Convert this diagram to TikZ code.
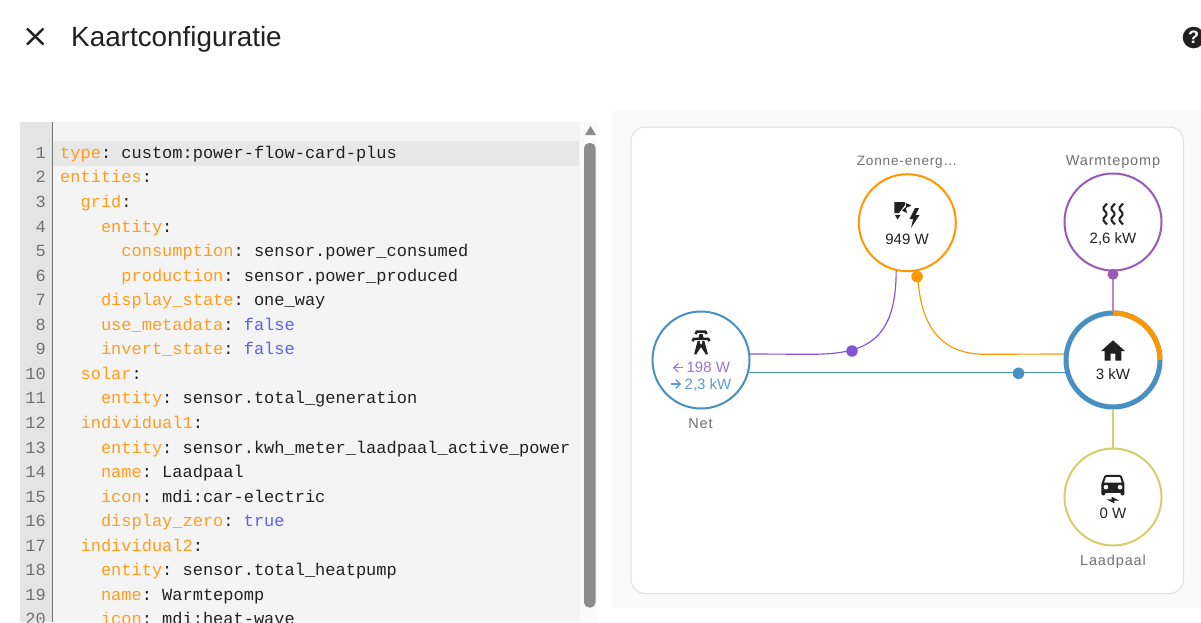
\documentclass[tikz,border=0pt]{standalone}
\usepackage{fontspec}
\setmainfont{Liberation Sans}
\newfontfamily\codefont{Liberation Mono}
\newfontfamily\labelfont[LetterSpace=6]{Liberation Sans}
\usetikzlibrary{arrows.meta}

\definecolor{griblue}{HTML}{488FC2}
\definecolor{solorange}{HTML}{FF9800}
\definecolor{flowpurple}{HTML}{8353D1}
\definecolor{heatpurple}{HTML}{9B59B6}
\definecolor{heatline}{HTML}{B58BD0}
\definecolor{caryellow}{HTML}{D4CF6C}
\definecolor{gridtext}{HTML}{5B9BD0}
\definecolor{inktext}{HTML}{212121}
\definecolor{greytext}{HTML}{727272}
\definecolor{keyorange}{HTML}{FF9D1E}
\definecolor{boolblue}{HTML}{5F5FF0}
\newcommand{\boolval}[1]{\textcolor{boolblue}{#1}}

\tikzset{
  flowcircle/.style={circle,draw,line width=2pt,fill=white,minimum size=97pt,inner sep=0pt},
  flowdot/.style={circle,fill,inner sep=0pt,minimum size=11.5pt},
  flowarrow/.style={line width=1.1pt,-{Straight Barb[length=4.5pt,width=9pt]}},
  valuetext/.style={anchor=base,inner sep=0pt,text=inktext,font=\fontsize{15}{18}\selectfont},
  labeltext/.style={anchor=base,inner sep=0pt,text=greytext,font=\labelfont\fontsize{14.5}{18}\selectfont},
  codeline/.style={anchor=base west,inner sep=0pt,text=inktext,font=\codefont\frenchspacing\fontsize{17}{20}\selectfont},
  codenum/.style={anchor=base east,inner sep=0pt,text=greytext,font=\codefont\fontsize{17}{20}\selectfont},
  mdi/.style={fill=inktext,even odd rule,draw=none}
}

\begin{document}
\begin{tikzpicture}[x=1pt,y=-1pt]
\clip (0,0) rectangle (1201,622);
\fill[white] (0,0) rectangle (1201,622);

\draw[inktext,line width=2.4pt] (27,28.5) -- (43.5,44.5);
\draw[inktext,line width=2.4pt] (43.5,28.5) -- (27,44.5);
\node[anchor=base west,inner sep=0pt,text=inktext,font=\fontsize{27.85}{32}\selectfont] (title) at (71,46) {Kaartconfiguratie};
\node[circle,fill=inktext,minimum size=21.6pt,inner sep=0pt,text=white,font=\bfseries\fontsize{18}{20}\selectfont] (help) at (1193.5,37.5) {?};

\fill[black!4.5] (52,122) rectangle (580,622);
\fill[black!10.5] (20,122) rectangle (52,622);
\draw[black!55,line width=1pt] (52.5,122) -- (52.5,622);
\fill[black!9] (53,141) rectangle (579,165.7);
\fill[black!2] (580,122) rectangle (597,622);
\fill[black!45] (585,135) -- (596,135) -- (590.5,126) -- cycle;
\fill[black!45,rounded corners=5pt] (584,143) rectangle (595.5,607.5);

\foreach \n/\ind/\k/\v in {
  1/0/type/custom:power-flow-card-plus,
  2/0/entities/{},
  3/2/grid/{},
  4/4/entity/{},
  5/6/consumption/sensor.power\_consumed,
  6/6/production/sensor.power\_produced,
  7/4/display\_state/one\_way,
  8/4/use\_metadata/\boolval{false},
  9/4/invert\_state/\boolval{false},
  10/2/solar/{},
  11/4/entity/sensor.total\_generation,
  12/2/individual1/{},
  13/4/entity/sensor.kwh\_meter\_laadpaal\_active\_power,
  14/4/name/Laadpaal,
  15/4/icon/mdi:car-electric,
  16/4/display\_zero/\boolval{true},
  17/2/individual2/{},
  18/4/entity/sensor.total\_heatpump,
  19/4/name/Warmtepomp,
  20/4/icon/mdi:heat-wave}{
  \node[codenum] (num\n) at (46,{158.4+(\n-1)*24.55}) {\n};
  \node[codeline] (line\n) at ({60+\ind*10.2},{158.4+(\n-1)*24.55}) {\textcolor{keyorange}{\k}: \v};
}

\fill[black!2] (612,111) rectangle (1201,608);
\draw[black!12,fill=white,rounded corners=14pt,line width=1pt] (631,127) rectangle (1183.5,593.5);

\node[flowcircle,draw=griblue] (grid) at (701,360) {};
\node[flowcircle,draw=solorange] (solar) at (907.3,222.7) {};
\node[flowcircle,draw=heatpurple] (heat) at (1113,222) {};
\node[flowcircle,draw=griblue,line width=5pt,minimum size=94pt] (home) at (1113,360) {};
\node[flowcircle,draw=caryellow] (car) at (1113,497) {};

\draw[solorange,line width=5pt] (home.center) ++(0,-47) arc[start angle=90,end angle=0,radius=47pt];

\draw[flowpurple,line width=1.15pt] (grid.7) -- (810,354.3) .. controls (865,354.3) and (896,342) .. (solar.257);
\draw[solorange,line width=1.15pt] (solar.282) .. controls (919,325) and (940,354.3) .. (985,354.3) -- (home.173.4);
\draw[griblue,line width=1.15pt] (grid.-15.6) -- (home.195.6);
\draw[heatline,line width=2pt] (heat.south) -- (home.north);
\draw[caryellow,line width=2pt] (home.south) -- (car.north);

\node[flowdot,fill=flowpurple] (griddot) at (852,351) {};
\node[flowdot,fill=solorange] (solardot) at (917,276.5) {};
\node[flowdot,fill=griblue] (homedot) at (1018.5,373.3) {};
\node[flowdot,fill=heatpurple,minimum size=11pt] (heatdot) at (1113,274.3) {};

\node[labeltext,font=\labelfont\fontsize{13.6}{18}\selectfont] (solarlabel) at (907,165) {Zonne-energ…};
\node[labeltext] (heatlabel) at (1113,165) {Warmtepomp};
\node[labeltext] (gridlabel) at (700.5,428) {Net};
\node[labeltext] (carlabel) at (1113,565) {Laadpaal};

\node[valuetext] (solarvalue) at (907,244) {949 W};
\node[valuetext] (heatvalue) at (1113,243) {2,6 kW};
\node[valuetext] (homevalue) at (1113,379.5) {3 kW};
\node[valuetext] (carvalue) at (1113,518) {0 W};
\node[valuetext,text=flowpurple!80!white] (gridin) at (708.3,372.3) {198 W};
\node[valuetext,text=gridtext] (gridout) at (708,389) {2,3 kW};
\coordinate (inarrow) at (683,367.7);
\coordinate (outarrow) at (671,384);
\draw[flowarrow,flowpurple!80!white] (inarrow) -- ++(-10,0);
\draw[flowarrow,gridtext] (outarrow) -- ++(10,0);

\begin{scope}[shift={(686.6,328)},scale=1.2]
\fill[mdi] (8.28,5.45) -- (6.5,4.55) -- (7.76,2) -- (16.23,2) -- (17.5,4.55) -- (15.72,5.44) -- (15,4) -- (9,4) -- cycle;
\fill[mdi] (18.62,8) -- (14.09,8) -- (13.3,5) -- (10.7,5) -- (9.91,8) -- (5.38,8) -- (4.1,10.55) -- (5.89,11.44) -- (6.62,10) -- (17.38,10) -- (18.1,11.45) -- (19.89,10.56) -- cycle;
\fill[mdi] (17.77,22) -- (15.7,22) -- (15.46,21.1) -- (12,15.9) -- (8.53,21.1) -- (8.3,22) -- (6.23,22) -- (9.12,11) -- (11.19,11) -- (10.83,12.35) -- (12,14.1) -- (13.16,12.35) -- (12.81,11) -- (14.88,11) -- cycle;
\end{scope}

\fill[mdi] (894.3,202) -- (905,202) -- (905,205) -- (899,213) -- (894.3,213) -- cycle;
\fill[mdi] (906,203) -- (911.5,205.5) -- (906,208) -- cycle;
\fill[mdi] (895,215) -- (900.5,215) -- (897.5,219.5) -- cycle;
\fill[mdi] (902,210.5) -- (905.5,207) -- (907,213) -- cycle;
\fill[mdi] (915,208) -- (909.5,219) -- (913.2,219) -- (911,228) -- (919.5,215) -- (915.5,215) -- (919,208) -- cycle;

\foreach \wx in {1105,1113,1121}{
  \draw[inktext,line width=2.1pt,rounded corners=1.6pt] (\wx+2,203.5) -- (\wx-2.5,208.5) -- (\wx+2.5,214) -- (\wx-2.5,219.5) -- (\wx+2,224.5);
}

\begin{scope}[shift={(1098.6,336.7)},scale=1.2]
\fill[mdi] (10,20) -- (10,14) -- (14,14) -- (14,20) -- (19,20) -- (19,12) -- (22,12) -- (12,3) -- (2,12) -- (5,12) -- (5,20) -- cycle;
\end{scope}

\begin{scope}[shift={(1097.6,473.7)},scale=1.28]
\fill[mdi] (18.92,2) .. controls (18.72,1.42) and (18.16,1) .. (17.5,1) -- (6.5,1) .. controls (5.84,1) and (5.29,1.42) .. (5.08,2) -- (3,8) -- (3,16) .. controls (3,16.55) and (3.45,17) .. (4,17) -- (5,17) .. controls (5.55,17) and (6,16.55) .. (6,16) -- (6,15) -- (18,15) -- (18,16) .. controls (18,16.55) and (18.45,17) .. (19,17) -- (20,17) .. controls (20.55,17) and (21,16.55) .. (21,16) -- (21,8) -- cycle
  (5,7) -- (6.5,2.5) -- (17.5,2.5) -- (19,7) -- cycle;
\fill[white] (6.5,10.5) circle[radius=1.8pt];
\fill[white] (17.5,10.5) circle[radius=1.8pt];
\fill[mdi] (7,20) -- (11,20) -- (11,18) -- (17,21) -- (13,21) -- (13,23) -- cycle;
\end{scope}
\end{tikzpicture}
\end{document}
